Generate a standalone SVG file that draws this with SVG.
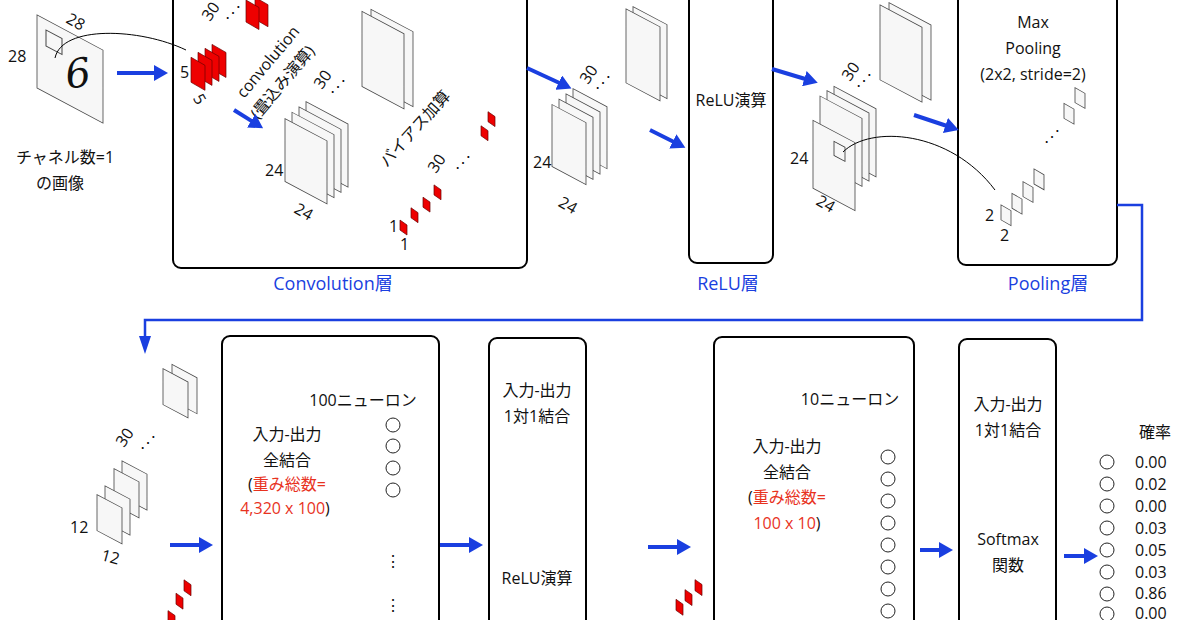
<svg xmlns="http://www.w3.org/2000/svg" width="1182" height="620" viewBox="0 0 1182 620">
<defs>
<style>
text{font-family:"Open Sans","Noto Sans CJK JP",sans-serif;font-size:16px;fill:#111}
.c{text-anchor:middle}
.b{fill:#1a3fe0;font-size:18px}
.r{fill:#e8321e}
.box{fill:#fff;stroke:#000;stroke-width:2}
.pg{fill:#f7f7f7;stroke:#444;stroke-width:0.8}
.rd{fill:#e00;stroke:#600;stroke-width:0.6}
.ar{stroke:#1a3fe0;stroke-width:4;fill:none;marker-end:url(#ah)}
.cir{fill:#fff;stroke:#222;stroke-width:1}
</style>
<marker id="ah" markerWidth="4" markerHeight="4" refX="2" refY="2" orient="auto" markerUnits="strokeWidth"><path d="M0,0L3.5,2L0,4z" fill="#1a3fe0"/></marker>
</defs>
<rect width="1182" height="620" fill="#fff"/>

<g id="input">
<rect class="pg" x="37" y="15" width="66" height="73" transform="skewY(28) translate(0,-19.7)"/>
<rect x="46" y="30" width="16" height="16" fill="none" stroke="#444" transform="skewY(28) translate(0,-24.5)"/>
<text x="66" y="88" style="font-size:40px;font-family:'DejaVu Serif';font-style:italic" transform="rotate(-8 72 80)">6</text>
<text x="65" y="22" transform="rotate(30 65 22)">28</text>
<text x="8" y="62">28</text>
<text x="65" y="163" class="c">チャネル数=1</text>
<text x="60" y="189" class="c">の画像</text>
</g>

<g id="conv">
<rect class="box" x="173" y="-12" width="354" height="280" rx="8"/>
<g transform="skewY(30)">
<rect class="rd" x="212" y="-78" width="14" height="25"/>
<rect class="rd" x="205" y="-70" width="14" height="25"/>
<rect class="rd" x="198" y="-62" width="14" height="25"/>
<rect class="rd" x="191" y="-53" width="14" height="25"/>
<rect class="rd" x="255" y="-150" width="13" height="22"/>
<rect class="rd" x="246" y="-142" width="13" height="22"/>
</g>
<text x="180" y="78">5</text>
<text x="193" y="103" transform="rotate(60 197 100)">5</text>
<text x="210" y="22" transform="rotate(-55 210 22)">30</text>
<text x="225" y="18">⋰</text>
<text x="244" y="99" transform="rotate(-50 244 99)">convolution</text>
<text x="258" y="120" transform="rotate(-50 258 120)">(畳込み演算)</text>
<g transform="skewY(28)">
<rect class="pg" x="371" y="-188" width="42" height="75"/>
<rect class="pg" x="362" y="-181" width="42" height="75"/>
<rect class="pg" x="306" y="-61" width="42" height="63"/>
<rect class="pg" x="299" y="-52" width="42" height="63"/>
<rect class="pg" x="292" y="-43" width="42" height="63"/>
<rect class="pg" x="285" y="-33" width="42" height="63"/>
</g>
<text x="265" y="176">24</text>
<text x="292" y="216" transform="rotate(30 300 216)">24</text>
<text x="322" y="90" transform="rotate(-55 322 90)">30</text>
<text x="330" y="92">⋰</text>
<text x="387" y="168" transform="rotate(-48 387 168)">バイアス加算</text>
<text x="436" y="174" transform="rotate(-55 436 174)">30</text>
<text x="455" y="168">⋰</text>
<g transform="skewY(35)">
<rect class="rd" x="400" y="-60" width="7" height="10"/>
<rect class="rd" x="411" y="-80" width="7" height="10"/>
<rect class="rd" x="423" y="-99" width="7" height="10"/>
<rect class="rd" x="434" y="-119" width="7" height="10"/>
<rect class="rd" x="481" y="-211" width="7" height="10"/>
<rect class="rd" x="488" y="-230" width="7" height="10"/>
</g>
<text x="389" y="232">1</text>
<text x="400" y="250">1</text>
<text x="333" y="290" class="c b">Convolution層</text>
</g>

<g id="relu1pages">
<g transform="skewY(28)">
<rect class="pg" x="633" y="-330" width="34" height="74"/>
<rect class="pg" x="626" y="-324" width="34" height="74"/>
<rect class="pg" x="573" y="-216" width="34" height="62"/>
<rect class="pg" x="566" y="-207" width="34" height="62"/>
<rect class="pg" x="559" y="-198" width="34" height="62"/>
<rect class="pg" x="552" y="-189" width="34" height="62"/>
</g>
<text x="533" y="168">24</text>
<text x="556" y="210" transform="rotate(30 565 210)">24</text>
<text x="588" y="85" transform="rotate(-55 588 85)">30</text>
<text x="595" y="88">⋰</text>
</g>

<g id="relu1">
<rect class="box" x="689" y="-12" width="84" height="275" rx="8"/>
<text x="731" y="106" class="c">ReLU演算</text>
<text x="728" y="290" class="c b">ReLU層</text>
</g>

<g id="relu1out">
<g transform="skewY(28)">
<rect class="pg" x="889" y="-470" width="42" height="75"/>
<rect class="pg" x="880" y="-463" width="42" height="75"/>
<rect class="pg" x="834" y="-357" width="42" height="68"/>
<rect class="pg" x="827" y="-349" width="42" height="68"/>
<rect class="pg" x="820" y="-340" width="42" height="68"/>
<rect class="pg" x="813" y="-312" width="42" height="68"/>
<rect x="834" y="-302" width="11" height="14" fill="none" stroke="#333" stroke-width="0.8"/>
</g>
<text x="790" y="164">24</text>
<text x="814" y="208" transform="rotate(30 822 208)">24</text>
<text x="850" y="82" transform="rotate(-55 850 82)">30</text>
<text x="856" y="86">⋰</text>
</g>

<g id="pool">
<rect class="box" x="958" y="-12" width="159" height="277" rx="8"/>
<text x="1033" y="28" class="c">Max</text>
<text x="1033" y="54" class="c">Pooling</text>
<text x="1033" y="80" class="c">(2x2, stride=2)</text>
<g transform="skewY(30)">
<rect class="pg" x="1001" y="-373" width="10" height="15"/>
<rect class="pg" x="1012" y="-391" width="10" height="15"/>
<rect class="pg" x="1023" y="-409" width="10" height="15"/>
<rect class="pg" x="1034" y="-428" width="10" height="15"/>
<rect class="pg" x="1064" y="-511" width="10" height="15"/>
<rect class="pg" x="1075" y="-533" width="10" height="15"/>
</g>
<text x="1044" y="142">⋰</text>
<text x="985" y="221">2</text>
<text x="1000" y="241">2</text>
<text x="1048" y="290" class="c b">Pooling層</text>
</g>

<g id="bottom-in">
<g transform="skewY(28)">
<rect class="pg" x="172" y="273" width="25" height="36"/>
<rect class="pg" x="163" y="282" width="25" height="36"/>
<rect class="pg" x="122" y="396" width="25" height="36"/>
<rect class="pg" x="114" y="408" width="25" height="36"/>
<rect class="pg" x="105" y="430" width="25" height="36"/>
<rect class="pg" x="97" y="443" width="25" height="36"/>
</g>
<text x="124" y="448" transform="rotate(-55 124 448)">30</text>
<text x="140" y="448">⋰</text>
<text x="70" y="533">12</text>
<text x="100" y="562" transform="rotate(15 108 562)">12</text>
<g transform="skewY(35)">
<rect class="rd" x="168" y="493" width="7" height="11"/>
<rect class="rd" x="176" y="470" width="7" height="11"/>
<rect class="rd" x="184" y="451" width="7" height="11"/>
</g>
</g>

<g id="fc1">
<rect class="box" x="222" y="336" width="217" height="300" rx="8"/>
<text x="363" y="406" class="c">100ニューロン</text>
<text x="287" y="440" class="c">入力-出力</text>
<text x="287" y="466" class="c">全結合</text>
<text x="287" y="490" class="c">(<tspan class="r">重み総数=</tspan></text>
<text x="285" y="514" class="c"><tspan class="r">4,320 x 100</tspan>)</text>
<circle class="cir" cx="393" cy="425" r="7"/>
<circle class="cir" cx="393" cy="446" r="7"/>
<circle class="cir" cx="393" cy="468" r="7"/>
<circle class="cir" cx="393" cy="490" r="7"/>
<text x="393" y="567" class="c">⋮</text>
<text x="393" y="611" class="c">⋮</text>
</g>

<g id="relu2">
<rect class="box" x="489" y="338" width="97" height="300" rx="8"/>
<text x="537" y="396" class="c">入力-出力</text>
<text x="537" y="422" class="c">1対1結合</text>
<text x="537" y="584" class="c">ReLU演算</text>
</g>

<g id="red2">
<g transform="skewY(35)">
<rect class="rd" x="676" y="126" width="7" height="11"/>
<rect class="rd" x="685" y="110" width="7" height="11"/>
<rect class="rd" x="695" y="93" width="7" height="11"/>
</g>
</g>

<g id="fc2">
<rect class="box" x="714" y="337" width="200" height="300" rx="8"/>
<text x="850" y="405" class="c">10ニューロン</text>
<text x="787" y="452" class="c">入力-出力</text>
<text x="787" y="478" class="c">全結合</text>
<text x="787" y="503" class="c">(<tspan class="r">重み総数=</tspan></text>
<text x="787" y="529" class="c"><tspan class="r">100 x 10</tspan>)</text>
<circle class="cir" cx="888" cy="457" r="7"/>
<circle class="cir" cx="888" cy="479" r="7"/>
<circle class="cir" cx="888" cy="501" r="7"/>
<circle class="cir" cx="888" cy="523" r="7"/>
<circle class="cir" cx="888" cy="545" r="7"/>
<circle class="cir" cx="888" cy="567" r="7"/>
<circle class="cir" cx="888" cy="589" r="7"/>
<circle class="cir" cx="888" cy="611" r="7"/>
</g>

<g id="softmax">
<rect class="box" x="959" y="339" width="97" height="300" rx="8"/>
<text x="1008" y="410" class="c">入力-出力</text>
<text x="1008" y="436" class="c">1対1結合</text>
<text x="1008" y="545" class="c">Softmax</text>
<text x="1008" y="571" class="c">関数</text>
</g>

<g id="output">
<text x="1155" y="438" class="c">確率</text>
<circle class="cir" cx="1107" cy="462" r="7"/><text x="1135" y="468">0.00</text>
<circle class="cir" cx="1107" cy="484" r="7"/><text x="1135" y="490">0.02</text>
<circle class="cir" cx="1107" cy="506" r="7"/><text x="1135" y="512">0.00</text>
<circle class="cir" cx="1107" cy="528" r="7"/><text x="1135" y="534">0.03</text>
<circle class="cir" cx="1107" cy="550" r="7"/><text x="1135" y="556">0.05</text>
<circle class="cir" cx="1107" cy="572" r="7"/><text x="1135" y="578">0.03</text>
<circle class="cir" cx="1107" cy="594" r="7"/><text x="1135" y="599">0.86</text>
<circle class="cir" cx="1107" cy="614" r="7"/><text x="1135" y="619">0.00</text>
</g>

<g id="connectors">
<path d="M55,58 C62,25 140,28 186,50" fill="none" stroke="#000" stroke-width="1"/>
<path d="M843,152 C870,125 950,130 995,190" fill="none" stroke="#000" stroke-width="1"/>
<line class="ar" x1="117" y1="73" x2="162" y2="73"/>
<line class="ar" x1="234" y1="110" x2="258" y2="125"/>
<line class="ar" x1="527" y1="68" x2="566" y2="86"/>
<line class="ar" x1="650" y1="130" x2="680" y2="145"/>
<line class="ar" x1="772" y1="69" x2="812" y2="81"/>
<line class="ar" x1="914" y1="115" x2="953" y2="128"/>
<polyline points="1117,205 1142,205 1142,320 145,320 145,340" fill="none" stroke="#1a3fe0" stroke-width="2.5"/>
<path d="M139,336 L151,336 L145,354 Z" fill="#1a3fe0"/>
<line class="ar" x1="170" y1="545" x2="207" y2="545"/>
<line class="ar" x1="440" y1="545" x2="477" y2="545"/>
<line class="ar" x1="648" y1="547" x2="685" y2="547"/>
<line class="ar" x1="920" y1="550" x2="947" y2="550"/>
<line class="ar" x1="1064" y1="556" x2="1092" y2="556"/>
</g>
</svg>
